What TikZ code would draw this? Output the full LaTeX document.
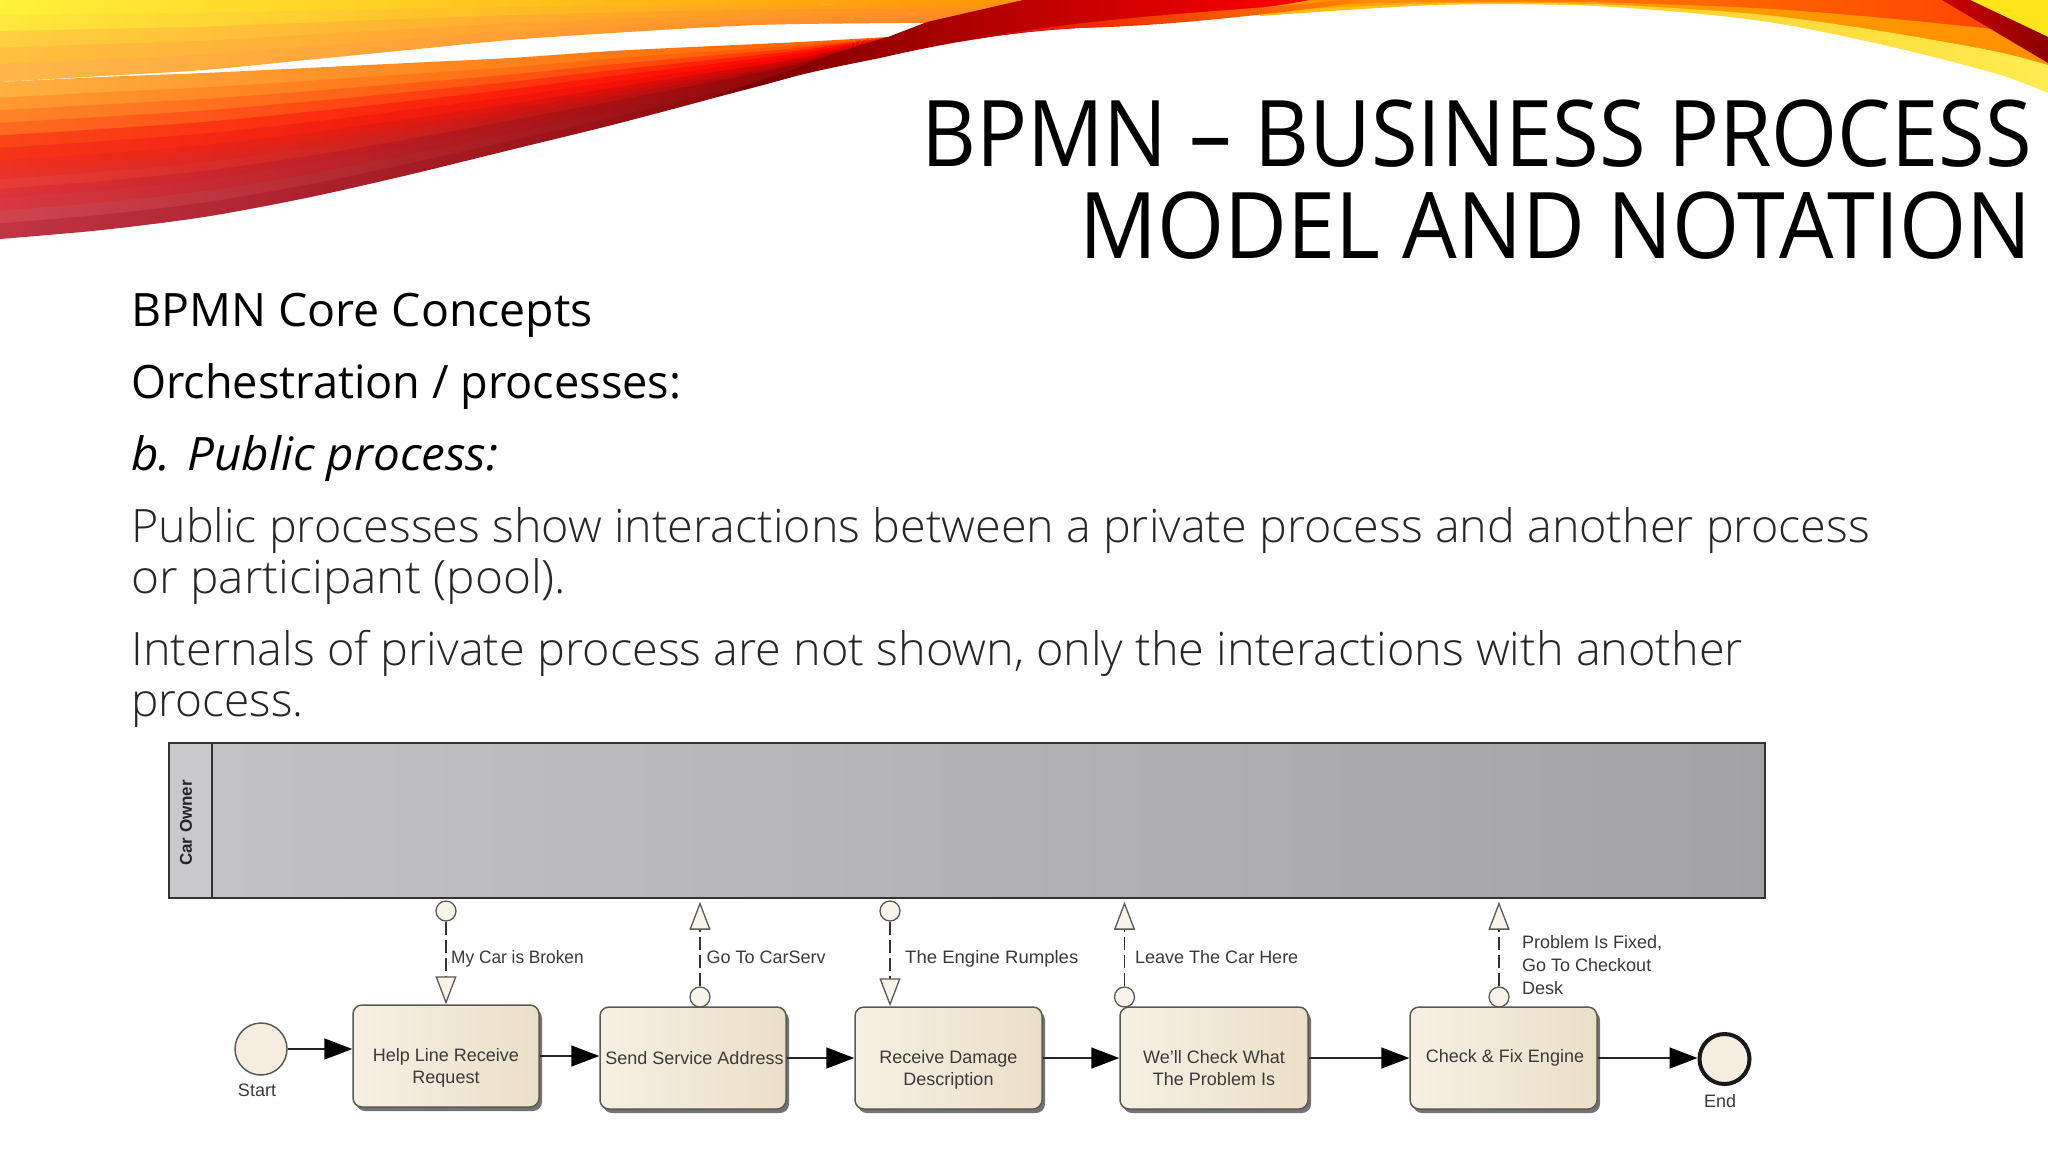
\documentclass[tikz,border=0pt]{standalone}
\usepackage{fontspec}
\usetikzlibrary{arrows.meta,shadows}
\setmainfont{Liberation Sans}
\newfontfamily\lightfont{Open Sans Light}
\newfontfamily\regfont{Open Sans}
\definecolor{cream}{HTML}{F5EEE0}
\definecolor{creamR}{HTML}{EBDFC8}
\definecolor{ink}{HTML}{3A3A3A}
\definecolor{edge}{HTML}{5A5A55}
\newcommand{\twolines}[2]{\vphantom{Ag}\smash{\raisebox{-1.3pt}{\begin{tabular}[t]{@{}c@{}}#1\\#2\end{tabular}}}}
\newcommand{\sx}[2]{\scalebox{#1}[1]{#2}}
% one ribbon strip between fractions #1 and #2 of the band \Xs,\Ts,\Bs
\newcommand{\ribbon}[5]{%
 \definecolor{rL}{HTML}{#3}\definecolor{rM}{HTML}{#4}\definecolor{rR}{HTML}{#5}%
 \path[left color=rL,middle color=rM,right color=rR]
  plot[smooth,samples at=\fwd] ({\Xs[int(\x)]},{\Ts[int(\x)]+(\Bs[int(\x)]-\Ts[int(\x)])*#1})
  -- plot[smooth,samples at=\bwd] ({\Xs[int(\x)]},{\Ts[int(\x)]+(\Bs[int(\x)]-\Ts[int(\x)])*#2})
  -- cycle;}
\tikzset{
  title/.style={anchor=base east,inner sep=0pt,font=\regfont\fontsize{92}{92}\selectfont,text=black},
  headline/.style={anchor=base west,inner sep=0pt,font=\regfont\fontsize{46}{46}\selectfont,text=black},
  bodyline/.style={anchor=base west,inner sep=0pt,font=\lightfont\fontsize{46}{46}\selectfont,text=black!85},
  task/.style={draw=edge,line width=1.5pt,rounded corners=9pt,minimum height=102pt,inner sep=0pt,
    left color=cream!90!white,middle color=cream!80!white,right color=creamR,
    general shadow={fill=black!55,shadow xshift=3pt,shadow yshift=-4pt},
    text=ink,font=\fontsize{18}{22}\selectfont,align=center},
  seq/.style={draw=black!85,line width=1.6pt,-{Triangle[length=28pt,width=21pt,color=black]}},
  msg/.style={draw=black!80,line width=1.3pt,dash pattern=on 13pt off 5pt,
    -{Triangle[length=28pt,width=21pt,fill=cream!70!white,color=edge]}},
  port/.style={circle,draw=edge,line width=1.3pt,fill=cream!70!white,minimum size=20pt,inner sep=0pt},
  flowlabel/.style={anchor=base west,inner sep=0pt,text=ink,font=\fontsize{18}{23}\selectfont,align=left},
  eventlabel/.style={inner sep=0pt,text=ink,font=\fontsize{18}{22}\selectfont},
}
\begin{document}
\begin{tikzpicture}[x=1pt,y=-1pt]
\useasboundingbox (0,0) rectangle (2048,1152);
\fill[white] (0,0) rectangle (2048,1152);
% ---------- swoosh: upper band
\def\fwd{0,...,9}\def\bwd{9,8,...,0}
\def\Xs{{0,102,204,306,408,510,612,714,800,1023}}
\def\Ts{{0,0,0,0,0,0,0,0,0,0}}
\def\Bs{{82,76,70,60,50,40,33,27,24,22}}
\ribbon{0}{.2}{FFF23A}{FFC800}{FF9400}
\ribbon{.18}{.4}{FFE83C}{FFBC10}{FF9010}
\ribbon{.38}{.6}{FFD040}{FFAA20}{FF8A18}
\ribbon{.58}{.8}{FFC040}{FF9E28}{FF8820}
\ribbon{.78}{1}{FFB848}{FF9430}{FF8420}
% ---------- swoosh: lower band
\def\fwd{0,...,9}\def\bwd{9,8,...,0}
\def\Xs{{0,102,204,306,408,510,612,714,800,888}}
\def\Ts{{82,77,73,68,63,58,51,46,42,37}}
\def\Bs{{239,230,217,198,175,150,125,98,74,38}}
\ribbon{0}{.12}{FFB040}{FF8C20}{FF6000}
\ribbon{.10}{.2}{FF9A30}{FF8420}{FF5000}
\ribbon{.18}{.28}{FF8428}{FF6C18}{FF3000}
\ribbon{.26}{.36}{FF6A20}{FF5010}{FF1000}
\ribbon{.34}{.44}{FA4618}{FF2808}{FF0000}
\ribbon{.42}{.52}{F53418}{FF1400}{F00000}
\ribbon{.50}{.58}{F03020}{F81008}{D00000}
\ribbon{.56}{.64}{E83428}{F03030}{C00000}
\ribbon{.62}{.70}{E83C38}{F04848}{A80000}
\ribbon{.68}{.76}{DC3238}{C81818}{900000}
\ribbon{.74}{.84}{D83840}{B00810}{8C0000}
\ribbon{.82}{.92}{D04450}{A00408}{880000}
\ribbon{.90}{1}{C03444}{900008}{880000}
% ---------- swoosh: top right ribbon
\def\fwd{0,...,6}\def\bwd{6,5,...,0}
\def\Xs{{1260,1437,1596,1755,1875,1994,2048}}
\def\Ts{{0,0,0,0,0,0,0}}
\def\Bs{{16,5,6,20,43,73,93}}
\ribbon{0}{.45}{FF9A00}{FFA800}{FF4000}
\ribbon{.4}{.75}{FFA800}{FFC010}{FF9000}
\ribbon{.7}{1}{FFB810}{FFD020}{FFEC50}
\fill[yellow!85!orange!90!white] (1970,0) -- (2048,0) -- (2048,37) -- cycle;
\path[left color=red!80!black,right color=red!55!black]
  (1942,0) -- (1970,0) -- (2048,37) -- (2048,63) -- cycle;
% ---------- swoosh: red crossing and orange edge
\path[left color=red!45!black,middle color=red!75!black,right color=red]
  (714,97) .. controls (745,85) and (775,76) .. (800,67) .. controls (830,55) and (860,45) .. (888,37)
  -- (927,22) -- (1023,0) -- (1310,0) .. controls (1230,14) and (1150,24) .. (1079,28)
  .. controls (1010,32) and (950,42) .. (880,58) .. controls (850,64) and (825,69) .. (800,75)
  .. controls (770,83) and (740,90) .. (714,97) -- cycle;
\path[left color=red!90!black,right color=orange!90!yellow]
  (960,42) .. controls (1000,34) and (1040,30) .. (1079,28)
  .. controls (1160,26) and (1240,18) .. (1380,0) -- (1340,0)
  .. controls (1240,12) and (1100,14) .. (960,42) -- cycle;
% ---------- title and text
\node[title] (titleA) at (2032,166) {\sx{.923}{BPMN – BUSINESS PROCESS}};
\node[title] (titleB) at (2032,258) {\sx{.938}{MODEL AND NOTATION}};
\node[headline] (h1) at (131,326.5) {\sx{1.01}{BPMN Core Concepts}};
\node[headline] (h2) at (131,398.5) {\sx{.98}{Orchestration / processes:}};
\node[headline] (h3) at (131,470.5) {\itshape\sx{1.035}{b. Public process:}};
\node[bodyline] (l1) at (131,542.5) {\sx{1.015}{Public processes show interactions between a private process and another process}};
\node[bodyline] (l2) at (131,593.5) {\sx{1.04}{or participant (pool).}};
\node[bodyline] (l3) at (131,665.5) {\sx{1.018}{Internals of private process are not shown, only the interactions with another}};
\node[bodyline] (l4) at (131,716.5) {process.};
% ---------- pool
\definecolor{poolL}{HTML}{C3C2C4}\definecolor{poolM}{HTML}{B9B8BA}\definecolor{poolR}{HTML}{A3A2A5}
\node[draw=black!80,line width=1.5pt,minimum width=1596pt,minimum height=155pt,inner sep=0pt,
  left color=poolL,middle color=poolM,right color=poolR] (pool) at (967,820.5) {};
\node[draw=black!80,line width=1.5pt,fill=poolL!90!white,minimum width=43pt,minimum height=155pt,inner sep=0pt] (header) at (190.5,820.5) {};
\node[rotate=90,inner sep=0pt,text=black!85,font=\bfseries\fontsize{17}{17}\selectfont] (poolname) at (186,823) {Car Owner};
% ---------- tasks
\node[task,minimum width=186pt] (b1) at (446,1056) {\twolines{Help Line Receive}{Request}};
\node[task,minimum width=186pt] (b2) at (693,1058) {\raisebox{1pt}{\hspace{3pt}Send Service Address}};
\node[task,minimum width=187pt] (b3) at (948.5,1058) {\twolines{Receive Damage}{Description}};
\node[task,minimum width=188pt] (b4) at (1214,1058) {\twolines{We'll Check What}{The Problem Is}};
\node[task,minimum width=187pt] (b5) at (1503.5,1058) {\hspace{3pt}Check \& Fix Engine};
% ---------- events
\node[circle,draw=edge,line width=1.5pt,fill=cream,minimum size=52pt,inner sep=0pt] (start) at (261,1049) {};
\node[circle,draw=black!90,line width=4pt,fill=cream,minimum size=50pt,inner sep=0pt] (end) at (1724.5,1059) {};
\node[eventlabel] (startl) at (257,1090) {Start};
\node[eventlabel] (endl) at (1720,1101) {End};
% ---------- sequence flows
\draw[seq] (start.east) -- (start.east -| b1.west);
\draw[seq] (b1.east) -- (b1.east -| b2.west);
\draw[seq] (b2.east) -- (b2.east -| b3.west);
\draw[seq] (b3.east) -- (b3.east -| b4.west);
\draw[seq] (b4.east) -- (b4.east -| b5.west);
\draw[seq] (b5.east) -- (b5.east -| end.west);
% ---------- message flows
\node[port] (p1) at (446,911) {};
\node[port] (p2) at (700,997) {};
\node[port] (p3) at (890,911) {};
\node[port] (p4) at (1124.5,997) {};
\node[port] (p5) at (1499,997) {};
\draw[msg] (p1) -- (p1 |- b1.north);
\draw[msg,shorten >=3pt] (p2) -- (p2 |- pool.south);
\draw[msg] (p3) -- (p3 |- b3.north);
\draw[msg,shorten >=3pt] (p4) -- (p4 |- pool.south);
\draw[msg,shorten >=3pt] (p5) -- (p5 |- pool.south);
\node[flowlabel] (m1) at (451,963.5) {\sx{.96}{My Car is Broken}};
\node[flowlabel] (m2) at (706.5,963.5) {Go To CarServ};
\node[flowlabel] (m3) at (905,963.5) {\sx{1.03}{The Engine Rumples}};
\node[flowlabel] (m4) at (1135,963.5) {Leave The Car Here};
\node[flowlabel,anchor=west] (m5) at (1522,965) {Problem Is Fixed,\\Go To Checkout\\Desk};
\end{tikzpicture}
\end{document}
